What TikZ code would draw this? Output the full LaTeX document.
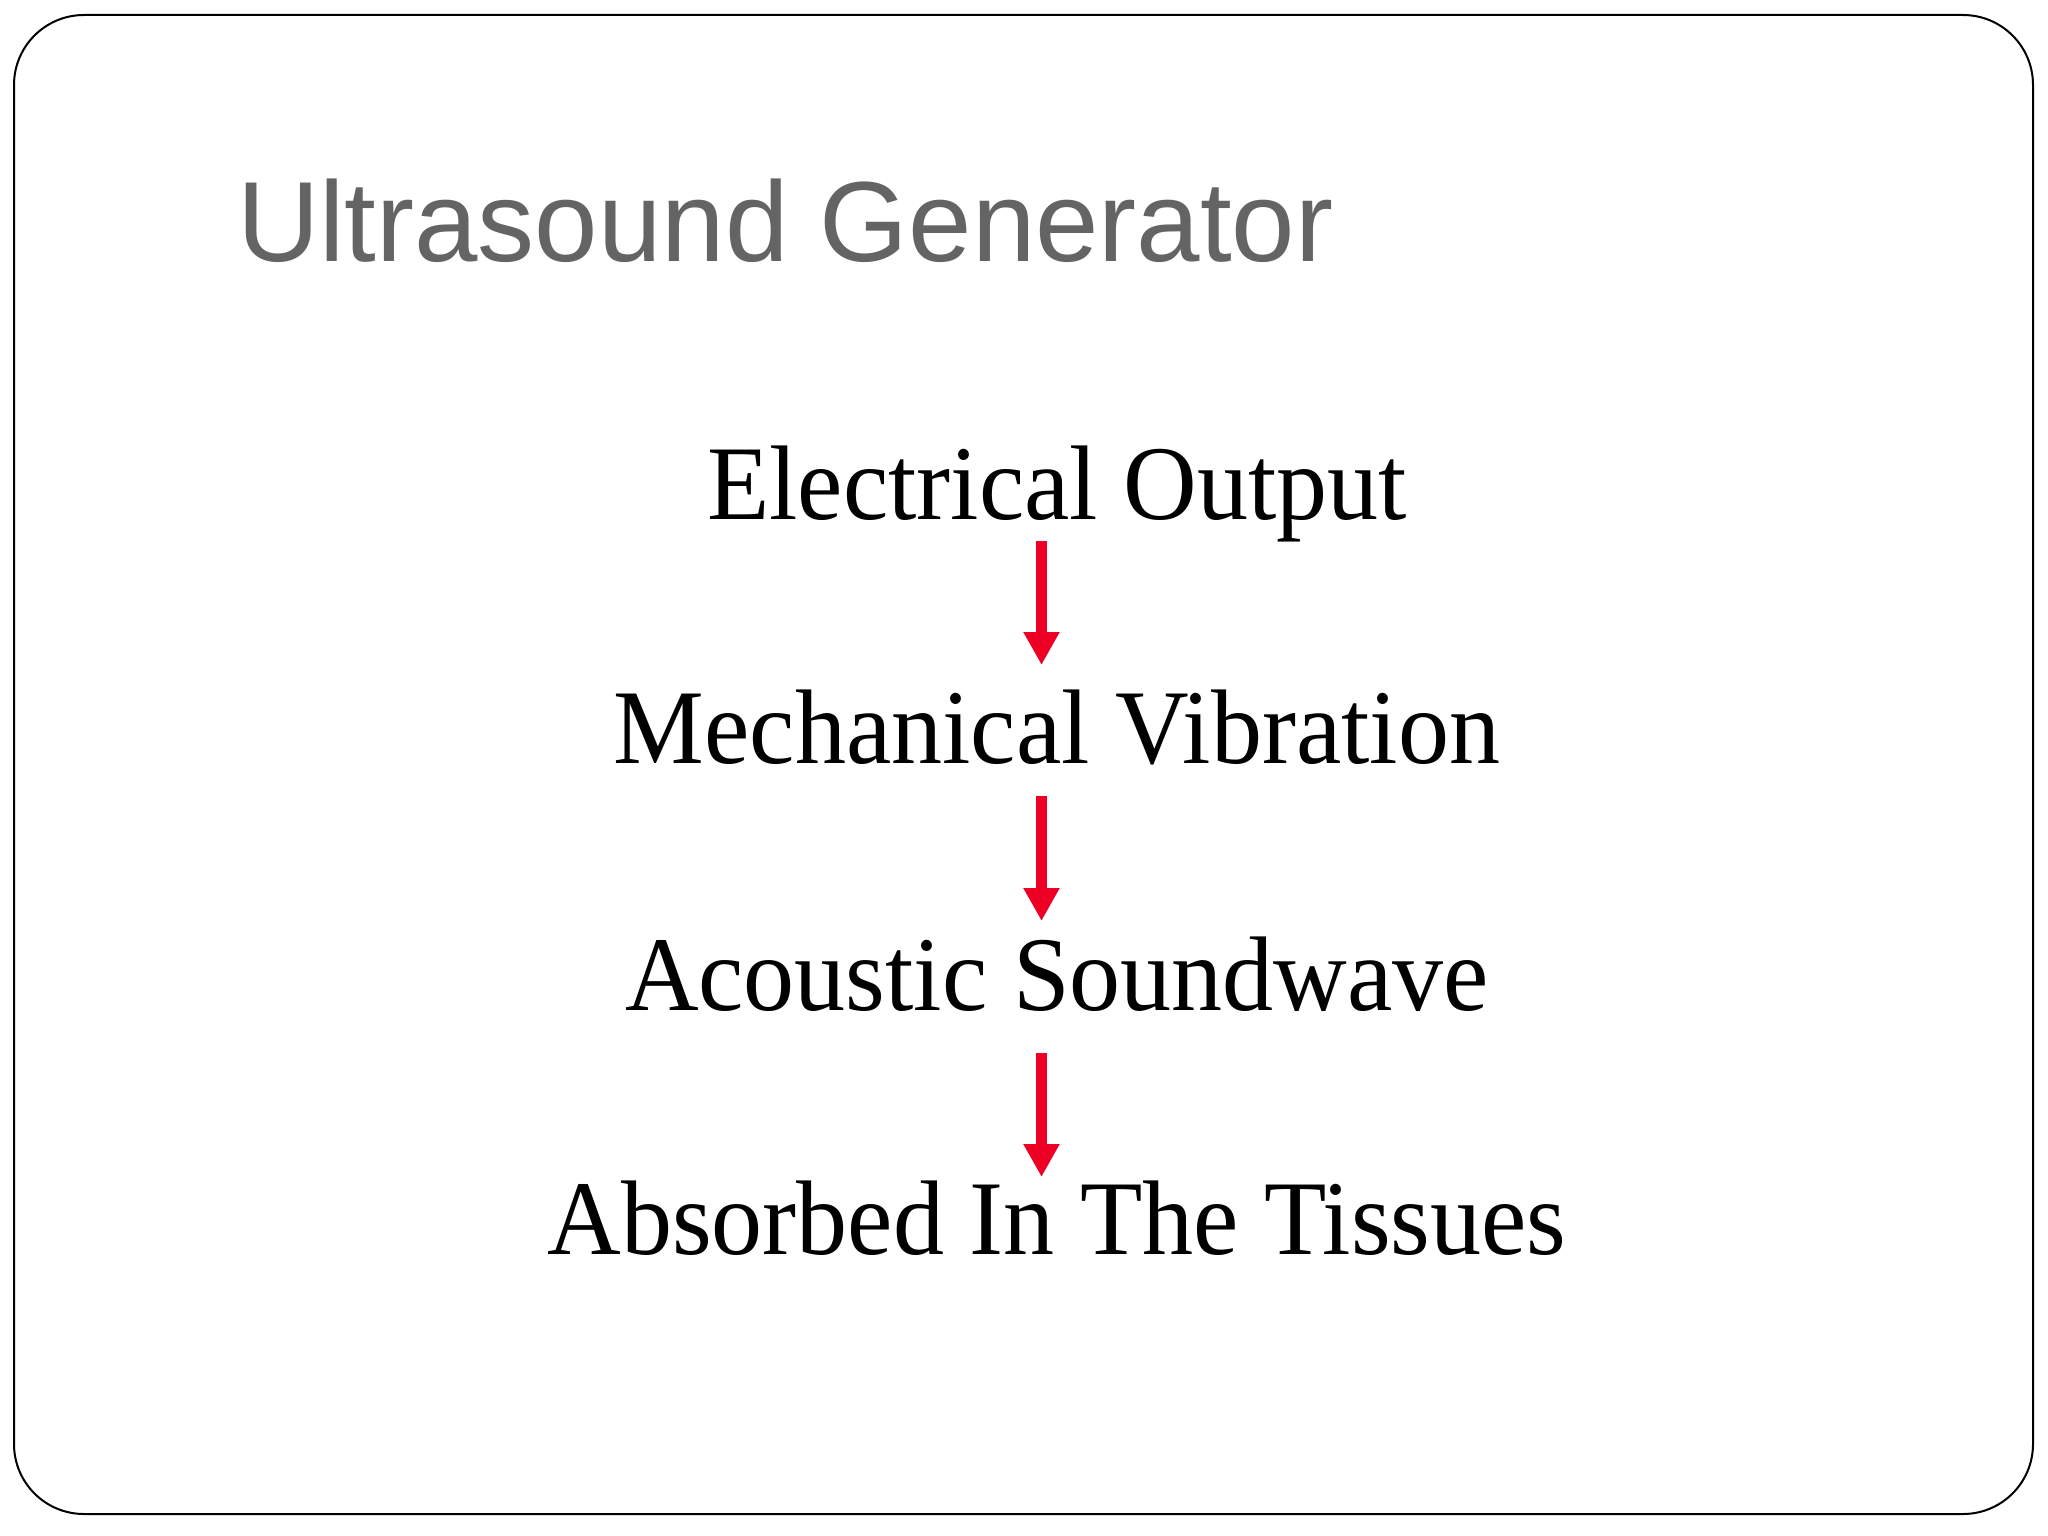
\documentclass[tikz,border=0pt]{standalone}
\usepackage{fontspec}
\setmainfont{Liberation Serif}
\newfontfamily\titlefont{Liberation Sans}
\usetikzlibrary{arrows.meta}
\definecolor{arrred}{RGB}{238,0,38}
\definecolor{titlegray}{RGB}{100,100,100}
\begin{document}
\begin{tikzpicture}[x=1pt,y=-1pt,
  frame/.style={draw=black,line width=2pt,rounded corners=70pt},
  titletext/.style={anchor=base west,inner sep=0pt,text=titlegray,font=\titlefont\fontsize{114}{120}\selectfont},
  stage/.style={anchor=base,inner sep=0pt,text=black,font=\fontsize{102}{110}\selectfont},
  flow/.style={draw=arrred,line width=11pt,-{Triangle[width=34pt,length=33pt]}}]
\useasboundingbox (0,0) rectangle (2048,1536);
\fill[white] (0,0) rectangle (2048,1536);
\draw[frame] (14,15) rectangle (2033,1514);
\node[titletext] (title) at (237,261) {Ultrasound Generator};
\node[stage] (e) at (1057,519) {\scalebox{1}[1.04]{Electrical Output}};
\node[stage] (m) at (1057,763) {\scalebox{1}[1.04]{Mechanical Vibration}};
\node[stage] (a) at (1057,1010) {\scalebox{1}[1.04]{Acoustic Soundwave}};
\node[stage] (t) at (1057,1254) {\scalebox{1}[1.04]{Absorbed In The Tissues}};
\draw[flow] ([xshift=-15.5pt,yshift=-22pt]e.base) -- ([xshift=-15.5pt,yshift=98pt]m.base);
\draw[flow] ([xshift=-15.5pt,yshift=-33pt]m.base) -- ([xshift=-15.5pt,yshift=89pt]a.base);
\draw[flow] ([xshift=-15.5pt,yshift=-43pt]a.base) -- ([xshift=-15.5pt,yshift=77pt]t.base);
\end{tikzpicture}
\end{document}
